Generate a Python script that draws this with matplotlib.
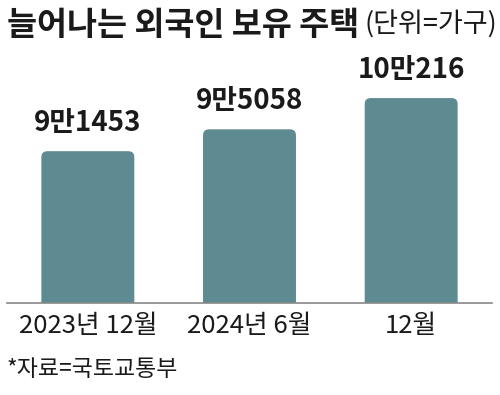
import matplotlib.pyplot as plt
from matplotlib.patches import FancyBboxPatch

plt.rcParams['font.family'] = ['Noto Sans CJK KR', 'DejaVu Sans']

categories = ['2023년 12월', '2024년 6월', '12월']
values = [91453, 95058, 100216]
value_labels = ['9만1453', '9만5058', '10만216']

W, H = 500, 395
fig = plt.figure(figsize=(W / 100, H / 100), dpi=100)
# axes in pixel terms: x 7..492, baseline at y=303, top at y=60
ax = fig.add_axes([7 / W, (H - 303) / H, 485 / W, 243 / H])

ymin, ymax = 66400, 106500
ax.set_xlim(-0.5, 2.5)
ax.set_ylim(ymin, ymax)

color = '#5e8b91'
bw = 0.575
xs = range(len(values))
# keep the corner radius round in pixels
px_x = 3 / 485
px_y = (ymax - ymin) / 243
for x, v in zip(xs, values):
    bottom = ymin - 3000
    p = FancyBboxPatch((x - bw / 2, bottom), bw, v - bottom,
                       boxstyle='round,pad=0,rounding_size=%f' % (6 * px_x),
                       mutation_aspect=px_y / px_x,
                       fc=color, ec='none', clip_on=True)
    ax.add_patch(p)
    ax.text(x, v + 14 * px_y, value_labels[x],
            ha='center', va='bottom', fontsize=20, fontweight='bold',
            color='#1a1a1a')

ax.set_xticks(list(xs))
ax.set_xticklabels(categories, fontsize=18.5, color='#1a1a1a')
ax.tick_params(axis='x', length=0, pad=7)
ax.set_yticks([])
for s in ['top', 'right', 'left']:
    ax.spines[s].set_visible(False)
ax.spines['bottom'].set_color('#888888')
ax.spines['bottom'].set_linewidth(1.2)

fig.text(7 / W, 1 - 25 / H, '늘어나는 외국인 보유 주택', fontsize=23.5,
         fontweight='bold', va='center', ha='left', color='#1a1a1a')
fig.text(497 / W, 1 - 25 / H, '(단위=가구)', fontsize=19.5,
         va='center', ha='right', color='#1a1a1a')
fig.text(7 / W, 1 - 370 / H, '*자료=국토교통부', fontsize=16.5,
         va='center', ha='left', color='#1a1a1a')

fig.savefig('out.png', dpi=100)
